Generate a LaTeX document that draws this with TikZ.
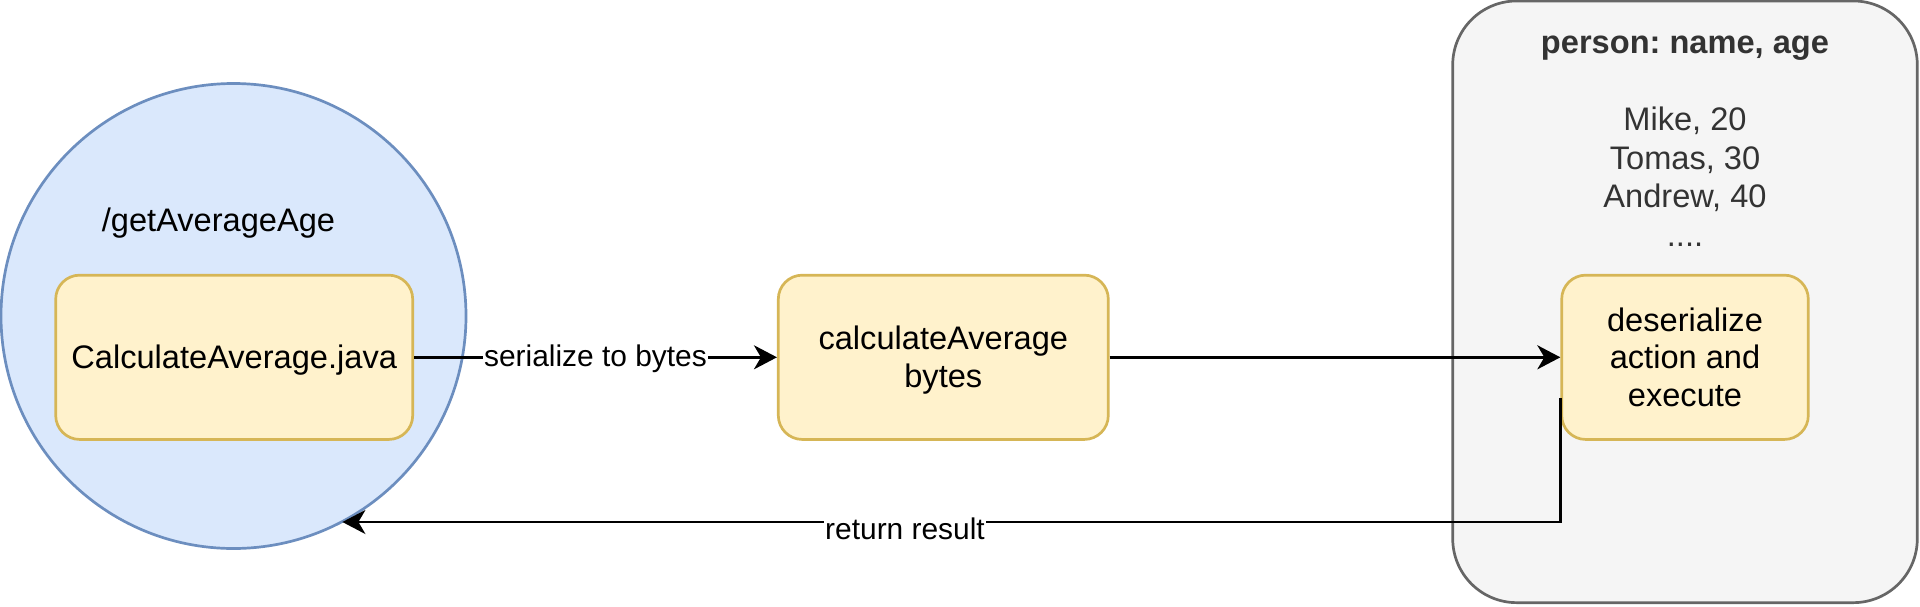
\documentclass[tikz,border=0pt]{standalone}
\usepackage{fontspec}
\setmainfont{Liberation Sans}
\frenchspacing
\usetikzlibrary{arrows.meta}
\definecolor{bluefill}{HTML}{DAE8FC}
\definecolor{bluestroke}{HTML}{6C8EBF}
\definecolor{yfill}{HTML}{FFF2CC}
\definecolor{ystroke}{HTML}{D6B656}
\definecolor{gfill}{HTML}{F5F5F5}
\definecolor{gstroke}{HTML}{666666}
\definecolor{gtext}{HTML}{333333}
\newcommand\lnst{\rule[-7.45pt]{0pt}{37.5pt}}
\newcommand\gst{\rule[-8.6pt]{0pt}{38.6pt}}
\newcommand\est{\rule[-6.8pt]{0pt}{34.4pt}}
\begin{document}
\begin{tikzpicture}[x=1pt,y=-1pt,
  every node/.style={font=\fontsize{32.6pt}{37.5pt}\selectfont, inner sep=0pt},
  ybox/.style={draw=ystroke, fill=yfill, line width=2.7pt, rounded corners=24pt, align=center},
  arr/.style={draw=black, line width=2.7pt, -{Stealth[length=23pt,width=24pt,inset=7pt]}},
  lbl/.style={fill=white, inner xsep=1pt, font=\fontsize{29.9pt}{34.4pt}\selectfont}]
\useasboundingbox (0,0) rectangle (1920,606);
% left circle
\node[circle, draw=bluestroke, fill=bluefill, line width=2.7pt, minimum size=465pt] (circ) at (233.5,316) {};
\node[anchor=base] (route) at (218.5,231.7) {/getAverageAge};
\node[ybox, minimum width=357pt, minimum height=164.3pt] (b1) at (234.2,357.3) {\lnst CalculateAverage.java};
% middle box
\node[ybox, minimum width=330pt, minimum height=164.3pt] (b2) at (943.3,357.3) {\lnst calculateAverage\\\lnst bytes};
% right container
\node[draw=gstroke, fill=gfill, line width=2.7pt, rounded corners=64pt, minimum width=464.6pt, minimum height=601.7pt] (cont) at (1685,301.8) {};
\node[anchor=north, align=center, text=gtext, font=\fontsize{32.6pt}{38.6pt}\selectfont] (data) at (1685,23.3)
  {\gst\textbf{person: name, age}\\\gst\\\gst Mike, 20\\\gst Tomas, 30\\\gst Andrew, 40\\\gst ....};
\node[ybox, minimum width=246.6pt, minimum height=164.3pt] (b3) at (1685,357.3) {\lnst deserialize\\\lnst action and\\\lnst execute};
% connectors
\draw[arr] (b1.east) -- (b2.west);
\node[lbl] (l1) at (595.5,355.6) {\est serialize to bytes};
\draw[arr] (b2.east) -- (b3.west);
\coordinate (rtip) at (342.4,522);
\draw[arr] ([yshift=-41.1pt]b3.west) |- (rtip);
\node[lbl] (l2) at (905,528.9) {\est return result};
\end{tikzpicture}
\end{document}
